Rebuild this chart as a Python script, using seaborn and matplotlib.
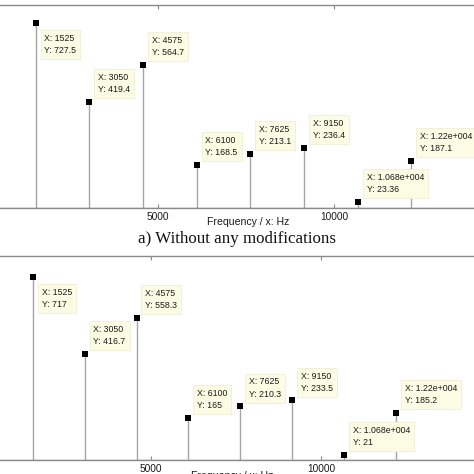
"""
Harmonic spectrum with MATLAB-style data tips, two cases
"""

import pandas as pd
import seaborn as sns
import matplotlib.pyplot as plt

freqs = [1525, 3050, 4575, 6100, 7625, 9150, 10680, 12200]
amp_plain = [727.5, 419.4, 564.7, 168.5, 213.1, 236.4, 23.36, 187.1]
amp_mod = [717, 416.7, 558.3, 165, 210.3, 233.5, 21, 185.2]

tick_vals = [5000, 10000]
tick_text = ["5000", "10000"]
caption = "a) Without any modifications"
xlabel = "Frequency / x: Hz"


def matlab_g(v: float) -> str:
    """Format a number like MATLAB's data tips (%.4g, 3-digit exponent)."""
    s = format(v, ".4g")
    if "e" in s:
        mant, exp = s.split("e")
        s = f"{mant}e{exp[0]}{int(exp[1:]):03d}"
    return s


def draw_panel(ax, amps, xlim, label_pos):
    df = pd.DataFrame({"freq": freqs, "amp": amps})

    # spectral lines
    ax.vlines(df["freq"], 0, df["amp"], color="#a4a4a4", lw=1.0, zorder=2)
    ax.axhline(0.8, color="#a4a4a4", lw=1.0, zorder=2)

    sns.scatterplot(data=df, x="freq", y="amp", marker="s", s=24,
                    color="black", linewidth=0, ax=ax, zorder=5,
                    clip_on=False)

    for f, a in zip(df["freq"], df["amp"]):
        below = a > 650
        ax.annotate(f"X: {matlab_g(f)}\nY: {matlab_g(a)}",
                    xy=(f, a),
                    xytext=(6.3, -7.6) if below else (6.3, 5.6),
                    textcoords="offset points",
                    ha="left", va="top" if below else "bottom",
                    fontsize=6.3, linespacing=1.45, color="#1a1a1a",
                    bbox=dict(boxstyle="square,pad=0.45", fc="#fcfce4",
                              ec="#efefd6", lw=0.6),
                    annotation_clip=False, zorder=6)

    ax.set_xlim(*xlim)
    ax.set_ylim(0, 800)
    ax.set_xticks(tick_vals)
    ax.set_xticklabels(tick_text)
    ax.set_yticks([])
    ax.tick_params(axis="x", direction="in", top=True, bottom=True,
                   length=3, width=0.8, color="#8a8a8a", labelsize=7.3,
                   pad=3, labelcolor="#1a1a1a")
    ax.set_ylabel("")
    ax.set_xlabel(xlabel, fontsize=7.6, color="#1a1a1a")
    ax.xaxis.set_label_coords(*label_pos)
    ax.xaxis.label.set_va("center")

    for side in ["left", "right"]:
        ax.spines[side].set_visible(False)
    for side in ["top", "bottom"]:
        ax.spines[side].set_color("#8a8a8a")
        ax.spines[side].set_linewidth(1.0)


def main():
    sns.set_theme(style="white")
    plt.rcParams["font.family"] = ["Liberation Sans", "DejaVu Sans"]

    fig = plt.figure(figsize=(4.74, 4.74), dpi=100)
    ax_top = fig.add_axes([0, 0.5612, 1, 0.4283])
    ax_bot = fig.add_axes([0, 0.0295, 1, 0.4304])

    draw_panel(ax_top, amp_plain, (511, 13977), (0.523, -0.069))
    draw_panel(ax_bot, amp_mod, (559, 14500), (0.489, -0.08))

    fig.text(0.5, 1 - 239 / 474, caption, ha="center", va="center",
             fontsize=12.2, family=["Liberation Serif", "DejaVu Serif"],
             color="#111111")

    fig.savefig("out.png", dpi=100)


if __name__ == "__main__":
    main()
